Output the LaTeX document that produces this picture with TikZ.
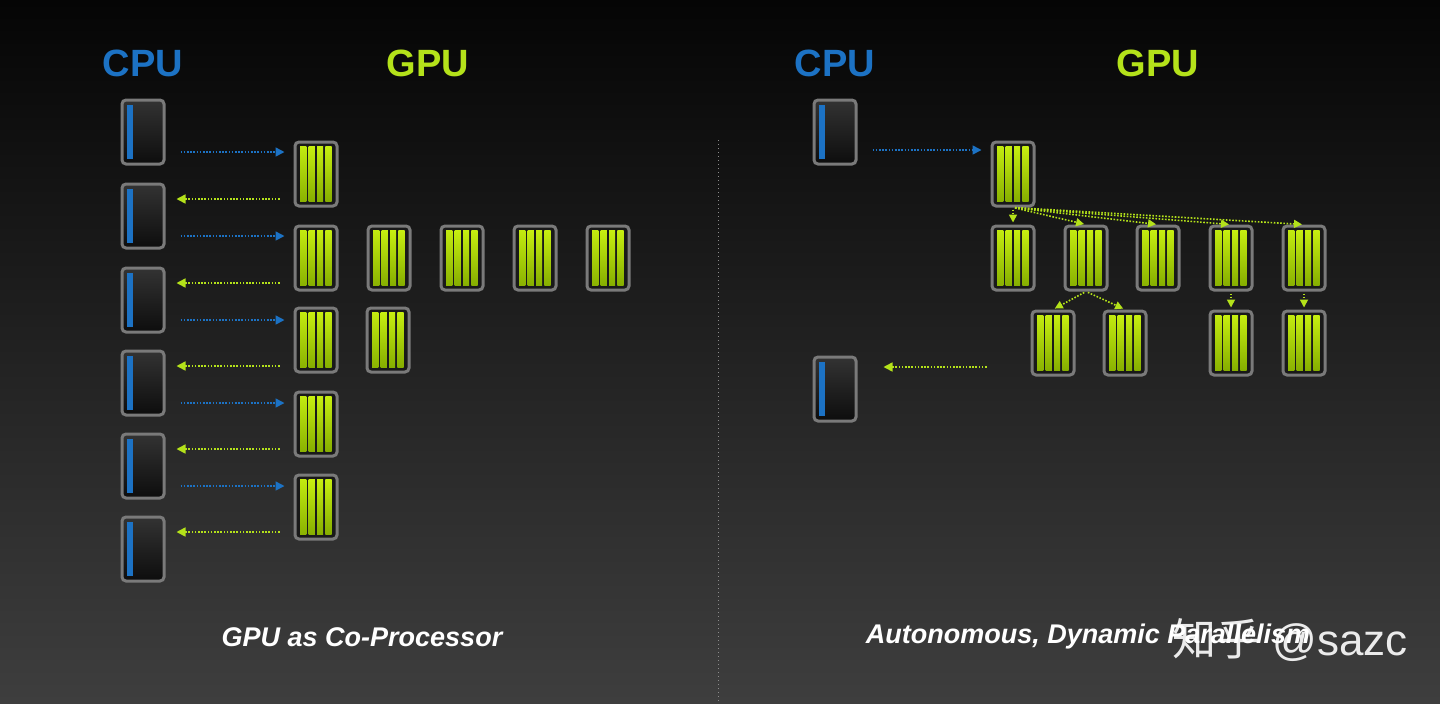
\documentclass[tikz,border=0pt]{standalone}
\usepackage{fontspec}
\setmainfont{Liberation Sans}
\newfontfamily\cjkfont{Noto Sans CJK SC}
\usepackage{tikz}
\usetikzlibrary{calc,arrows.meta}

\definecolor{bgtop}{HTML}{050505}
\definecolor{bgmid}{HTML}{141414}
\definecolor{bgbot}{HTML}{3E3E3E}
\definecolor{boxgray}{HTML}{7A7A7A}
\definecolor{cpublue}{HTML}{1C72C4}
\definecolor{gpuhi}{HTML}{C6EE10}
\definecolor{gpulo}{HTML}{86AE00}
\definecolor{gpugreen}{HTML}{B4E21A}

\tikzset{
  cpu/.style={draw=boxgray, line width=1.5pt, rounded corners=2pt,
    top color=black!80, bottom color=black!95,
    minimum width=21pt, minimum height=32pt, inner sep=0pt,
    path picture={
      \fill[cpublue, sharp corners] ($(path picture bounding box.south west)+(2.4pt,2.6pt)$) rectangle ++(3pt,26.8pt);
    }},
  gpu/.style={draw=boxgray, line width=1.5pt, rounded corners=2pt, fill=black!90,
    minimum width=21pt, minimum height=32pt, inner sep=0pt,
    path picture={
      \foreach \k in {0,...,3}
        \shade[sharp corners, top color=gpuhi, bottom color=gpulo]
          ($(path picture bounding box.south west)+(2.6pt+\k*4.2pt,2.4pt)$) rectangle ++(3.1pt,27.2pt);
    }},
  tognu/.style={cpublue, line width=0.8pt, dash pattern=on 0.8pt off 0.8pt,
    -{Triangle[length=4.5pt,width=4.5pt]}, shorten <=7.5pt, shorten >=4.5pt},
  tocpu/.style={gpugreen, line width=0.8pt, dash pattern=on 0.8pt off 0.8pt,
    -{Triangle[length=4.5pt,width=4.5pt]}, shorten <=7pt, shorten >=5.5pt},
  spawn/.style={gpugreen, line width=0.8pt, dash pattern=on 0.8pt off 0.8pt,
    -{Triangle[length=4pt,width=4pt]}, shorten <=1pt, shorten >=1pt},
  title/.style={font=\fontsize{19}{20}\selectfont\bfseries},
  caption/.style={font=\fontsize{13.5}{15}\selectfont\bfseries\itshape, text=white}
}

\begin{document}
\begin{tikzpicture}[x=0.5pt, y=-0.5pt]
  % background
  \shade[top color=bgtop, middle color=bgmid, bottom color=bgbot] (0,0) rectangle (1440,703);
  \useasboundingbox (0,0) rectangle (1440,703);
  \draw[black!45, line width=0.5pt, dash pattern=on 0.6pt off 1.4pt] (718,140) -- (718,703);

  % ---- left half: GPU as co-processor
  \node[title, text=cpublue] (cpuL) at (143,63) {CPU};
  \node[title, text=gpugreen] (gpuL) at (428,63) {GPU};

  \foreach \i/\y in {1/132,2/216,3/300,4/383,5/466,6/549}
    \node[cpu] (c\i) at (143,\y) {};
  \foreach \i/\y in {1/174,2/258,3/340,4/424,5/507}
    \node[gpu] (g\i) at (316,\y) {};
  \foreach \i/\x in {2/389,3/462,4/535,5/608}
    \node[gpu] (r\i) at (\x,258) {};
  \node[gpu] (s2) at (388,340) {};

  % calls out and returns
  \foreach \i [evaluate=\i as \j using int(\i+1)] in {1,...,5}{
    \draw[tognu] ([yshift=-10pt]c\i.east) -- ([yshift=-10pt]c\i.east -| g\i.west);
    \draw[tocpu] ([yshift=8.5pt]c\j.east -| g\i.west) -- ([yshift=8.5pt]c\j.east);
  }

  \node[caption] (capL) at (362,637) {GPU as Co-Processor};

  % ---- right half: dynamic parallelism
  \node[title, text=cpublue] (cpuR) at (835,63) {CPU};
  \node[title, text=gpugreen] (gpuR) at (1158,63) {GPU};

  \node[cpu] (ca) at (835,132) {};
  \node[cpu] (cb) at (835,389) {};
  \node[gpu] (gt) at (1013,174) {};
  \foreach \i/\x in {1/1013,2/1086,3/1158,4/1231,5/1304}
    \node[gpu] (p\i) at (\x,258) {};
  \foreach \i/\x in {1/1053,2/1125,4/1231,5/1304}
    \node[gpu] (q\i) at (\x,343) {};

  \draw[tognu] ([yshift=-9pt]ca.east) -- ([yshift=-9pt]ca.east -| gt.west);
  \draw[tocpu, shorten <=22pt, shorten >=13pt] ([yshift=11pt]cb.east -| q1.west) -- ([yshift=11pt]cb.east);

  \foreach \i in {1,...,5}
    \draw[spawn] (gt.south) -- (p\i.north);
  \draw[spawn] (p2.south) -- (q1.north);
  \draw[spawn] (p2.south) -- (q2.north);
  \draw[spawn] (p4.south) -- (q4.north);
  \draw[spawn] (p5.south) -- (q5.north);

  \node[caption] (capR) at (1088,637) {Autonomous, Dynamic Parallelism};
  \node[text=white, opacity=0.9, font=\fontsize{22}{24}\selectfont] (mark) at (1290,640)
    {{\cjkfont 知乎} @sazc};
\end{tikzpicture}
\end{document}
